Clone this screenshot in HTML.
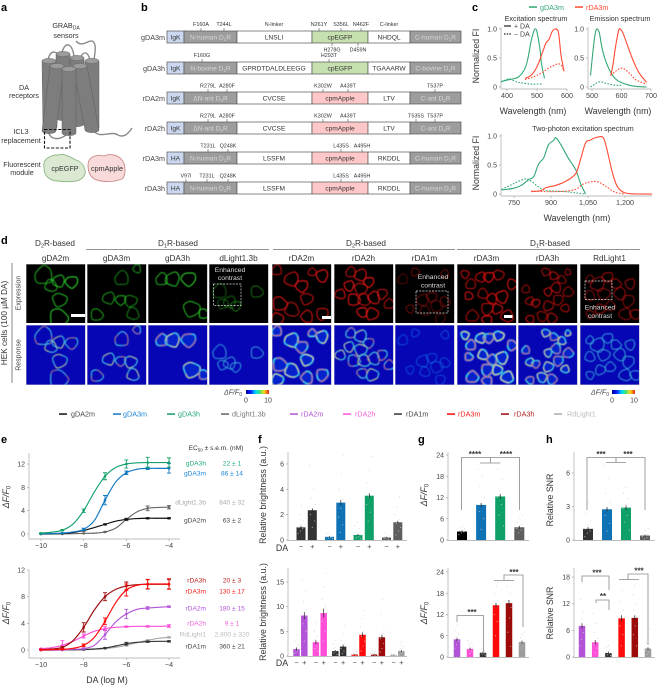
<!DOCTYPE html>
<html lang="en">
<head>
<meta charset="utf-8">
<title>GRAB-DA sensor figure</title>
<style>
html,body{margin:0;padding:0;background:#fff;width:658px;height:685px;overflow:hidden}
svg{display:block}
text{font-family:"Liberation Sans",sans-serif;fill:#333}
.let{font-size:11px;font-weight:700;fill:#000}
.m{font-size:5.4px;text-anchor:middle;fill:#333}
.rn{font-size:7.2px;text-anchor:end;fill:#444}
.w{font-size:6.6px;text-anchor:middle;fill:#d6d6d6}
.k{font-size:6.6px;text-anchor:middle;fill:#333}
.a7{font-size:7.2px;text-anchor:middle;fill:#444}
.t{font-size:7px;fill:#444}
.lab{font-size:8.8px;text-anchor:middle;fill:#333}
.ttl{font-size:7.2px;text-anchor:middle;fill:#333}
.col{font-size:8.2px;text-anchor:middle;fill:#333}
.en{font-size:6.8px;text-anchor:middle;fill:#ddd}
.lg{font-size:7.2px}
.star{font-size:8px;text-anchor:middle;fill:#333;font-weight:700}
.ec{font-size:6.6px}
.br{fill:none;stroke:#888;stroke-width:.8}
.seg{stroke:#555;stroke-width:.7}
.tk{stroke:#333;stroke-width:.5}
</style>
</head>
<body>
<svg id="figure" width="658" height="685" viewBox="0 0 658 685" xmlns="http://www.w3.org/2000/svg">
<defs>
<linearGradient id="jet" x1="0" x2="1" y1="0" y2="0"><stop offset="0" stop-color="#00008a"/><stop offset=".2" stop-color="#0020ff"/><stop offset=".42" stop-color="#00d8ff"/><stop offset=".6" stop-color="#40e070"/><stop offset=".78" stop-color="#f0e020"/><stop offset="1" stop-color="#f02010"/></linearGradient>
<filter id="soft" x="-5%" y="-5%" width="110%" height="110%"><feGaussianBlur stdDeviation=".4"/></filter>
</defs>

<text class="let" x="1" y="11">a</text>
<text class="let" x="141" y="11">b</text>
<text class="let" x="472" y="11">c</text>
<text class="let" x="1" y="244">d</text>
<text class="let" x="1" y="443">e</text>
<text class="let" x="258" y="443">f</text>
<text class="let" x="418" y="443">g</text>
<text class="let" x="546" y="443">h</text>

<!-- Panel a -->
<g id="panel-a">
<text class="ttl" x="66" y="28">GRAB<tspan font-size="5" dy="1.5">DA</tspan></text>
<text class="ttl" x="66" y="38">sensors</text>
<text class="ttl" x="24" y="90">DA</text>
<text class="ttl" x="24" y="98">receptors</text>
<text class="ttl" x="21" y="134">ICL3</text>
<text class="ttl" x="21" y="143">replacement</text>
<text class="ttl" x="22" y="167">Fluorescent</text>
<text class="ttl" x="22" y="175">module</text>
<path d="M76,41 C82,48 88,40 92,41 C97,43 95,52 94,60" fill="none" stroke="#8b8b8b" stroke-width="1.4"/>
<path d="M48,60 C50,50 56,50 60,57 M62,52 C66,40 72,44 74,56 M80,58 C84,50 88,52 90,60" fill="none" stroke="#8b8b8b" stroke-width="1.4"/>
<path d="M93,130 C100,140 110,130 118,135 C124,138 128,134 132,128" fill="none" stroke="#8b8b8b" stroke-width="1.4"/>
<path d="M48,130 C50,142 62,140 68,133" fill="none" stroke="#8b8b8b" stroke-width="1.4"/>
<g id="rods"></g>
<rect x="44.5" y="129.5" width="25.5" height="18.5" fill="none" stroke="#111" stroke-width="1.1" stroke-dasharray="3 1.6"/>
<path d="M44,168 C42,158 52,155 58,155 C64,153 70,157 76,160 C84,162 87,172 84,176 C80,183 66,182 58,181 C50,181 44,176 44,168Z" fill="#dbe9d3" stroke="#8fb884" stroke-width=".9"/>
<text class="ttl" x="65" y="171">cpEGFP</text>
<path d="M88,165 C88,157 96,154 104,156 C110,153 118,155 122,160 C126,165 126,176 122,179 C112,183 98,182 93,178 C89,175 88,170 88,165Z" fill="#f8dada" stroke="#cc8a8a" stroke-width=".9"/>
<text class="ttl" x="107" y="171">cpmApple</text>
</g>

<!-- Panel b -->
<g id="panel-b">
<g>
<text class="rn" x="165" y="40">gDA3m</text>
<rect class="seg" x="167" y="31" width="17" height="12" fill="#cbd7ee"/><rect class="seg" x="184" y="31" width="53" height="12" fill="#9d9d9d"/><rect class="seg" x="237" y="31" width="75" height="12" fill="#fff"/><rect class="seg" x="312" y="31" width="56" height="12" fill="#c6e0b0"/><rect class="seg" x="368" y="31" width="42" height="12" fill="#fff"/><rect class="seg" x="410" y="31" width="51" height="12" fill="#9d9d9d"/>
<text class="k" x="175.500" y="39.500">IgK</text><text class="w" x="210.500" y="39.500">N-human D<tspan font-size="4.5" dy="1.3">1</tspan><tspan dy="-1.3">R</tspan></text><text class="k" x="274" y="39.500">LNSLI</text><text class="k" x="340" y="39.500">cpEGFP</text><text class="k" x="389" y="39.500">NHDQL</text><text class="w" x="435.500" y="39.500">C-human D<tspan font-size="4.5" dy="1.3">1</tspan><tspan dy="-1.3">R</tspan></text>
<text class="m" x="201" y="26">F160A</text><text class="m" x="224" y="26">T244L</text><text class="m" x="274" y="26">N-linker</text><text class="m" x="319" y="26">N261Y</text><text class="m" x="341" y="26">S356L</text><text class="m" x="361" y="26">N462F</text><text class="m" x="389" y="26">C-linker</text>
<path class="tk" d="M201,28V31M224,28V31M319,28V31M341,28V31M361,28V31M332,43V46M358,43V46"/>
<text class="m" x="332" y="51.500">H278G</text><text class="m" x="358" y="51.500">D459N</text>
</g>
<g>
<text class="rn" x="165" y="71">gDA3h</text>
<rect class="seg" x="167" y="62" width="17" height="12" fill="#cbd7ee"/><rect class="seg" x="184" y="62" width="53" height="12" fill="#9d9d9d"/><rect class="seg" x="237" y="62" width="75" height="12" fill="#fff"/><rect class="seg" x="312" y="62" width="56" height="12" fill="#c6e0b0"/><rect class="seg" x="368" y="62" width="42" height="12" fill="#fff"/><rect class="seg" x="410" y="62" width="51" height="12" fill="#9d9d9d"/>
<text class="k" x="175.500" y="70.500">IgK</text><text class="w" x="210.500" y="70.500">N-bovine D<tspan font-size="4.5" dy="1.3">1</tspan><tspan dy="-1.3">R</tspan></text><text class="k" x="274" y="70.500">GPRDTDALDLEEGG</text><text class="k" x="340" y="70.500">cpEGFP</text><text class="k" x="389" y="70.500">TGAAARW</text><text class="w" x="435.500" y="70.500">C-bovine D<tspan font-size="4.5" dy="1.3">1</tspan><tspan dy="-1.3">R</tspan></text>
<text class="m" x="202" y="57">F160G</text><text class="m" x="329" y="57">H293T</text>
<path class="tk" d="M202,59V62M329,59V62"/>
</g>
<g>
<text class="rn" x="165" y="101">rDA2m</text>
<rect class="seg" x="167" y="92" width="17" height="12" fill="#cbd7ee"/><rect class="seg" x="184" y="92" width="53" height="12" fill="#9d9d9d"/><rect class="seg" x="237" y="92" width="75" height="12" fill="#fff"/><rect class="seg" x="312" y="92" width="56" height="12" fill="#ffc8c8"/><rect class="seg" x="368" y="92" width="42" height="12" fill="#fff"/><rect class="seg" x="410" y="92" width="51" height="12" fill="#9d9d9d"/>
<text class="k" x="175.500" y="100.500">IgK</text><text class="w" x="210.500" y="100.500">ΔN-ant D<tspan font-size="4.5" dy="1.3">2</tspan><tspan dy="-1.3">R</tspan></text><text class="k" x="274" y="100.500">CVCSE</text><text class="k" x="340" y="100.500">cpmApple</text><text class="k" x="389" y="100.500">LTV</text><text class="w" x="435.500" y="100.500">C-ant D<tspan font-size="4.5" dy="1.3">2</tspan><tspan dy="-1.3">R</tspan></text>
<text class="m" x="208" y="87.500">R279L</text><text class="m" x="227" y="87.500">A280F</text><text class="m" x="323" y="87.500">K302W</text><text class="m" x="348" y="87.500">A439T</text><text class="m" x="435" y="87.500">T537P</text>
<path class="tk" d="M208,89V92M227,89V92M323,89V92M348,89V92M435,89V92"/>
</g>
<g>
<text class="rn" x="165" y="131">rDA2h</text>
<rect class="seg" x="167" y="122" width="17" height="12" fill="#cbd7ee"/><rect class="seg" x="184" y="122" width="53" height="12" fill="#9d9d9d"/><rect class="seg" x="237" y="122" width="75" height="12" fill="#fff"/><rect class="seg" x="312" y="122" width="56" height="12" fill="#ffc8c8"/><rect class="seg" x="368" y="122" width="42" height="12" fill="#fff"/><rect class="seg" x="410" y="122" width="51" height="12" fill="#9d9d9d"/>
<text class="k" x="175.500" y="130.500">IgK</text><text class="w" x="210.500" y="130.500">ΔN-ant D<tspan font-size="4.5" dy="1.3">2</tspan><tspan dy="-1.3">R</tspan></text><text class="k" x="274" y="130.500">CVCSE</text><text class="k" x="340" y="130.500">cpmApple</text><text class="k" x="389" y="130.500">LTV</text><text class="w" x="435.500" y="130.500">C-ant D<tspan font-size="4.5" dy="1.3">2</tspan><tspan dy="-1.3">R</tspan></text>
<text class="m" x="208" y="117.500">R279L</text><text class="m" x="227" y="117.500">A280F</text><text class="m" x="323" y="117.500">K302W</text><text class="m" x="348" y="117.500">A439T</text><text class="m" x="416" y="117.500">T535S</text><text class="m" x="435" y="117.500">T537P</text>
<path class="tk" d="M208,119V122M227,119V122M323,119V122M348,119V122M416,119V122M435,119V122"/>
</g>
<g>
<text class="rn" x="165" y="161">rDA3m</text>
<rect class="seg" x="167" y="152" width="17" height="12" fill="#cbd7ee"/><rect class="seg" x="184" y="152" width="53" height="12" fill="#9d9d9d"/><rect class="seg" x="237" y="152" width="75" height="12" fill="#fff"/><rect class="seg" x="312" y="152" width="56" height="12" fill="#ffc8c8"/><rect class="seg" x="368" y="152" width="42" height="12" fill="#fff"/><rect class="seg" x="410" y="152" width="51" height="12" fill="#9d9d9d"/>
<text class="k" x="175.500" y="160.500">HA</text><text class="w" x="210.500" y="160.500">N-human D<tspan font-size="4.5" dy="1.3">1</tspan><tspan dy="-1.3">R</tspan></text><text class="k" x="274" y="160.500">LSSFM</text><text class="k" x="340" y="160.500">cpmApple</text><text class="k" x="389" y="160.500">RKDDL</text><text class="w" x="435.500" y="160.500">C-human D<tspan font-size="4.5" dy="1.3">1</tspan><tspan dy="-1.3">R</tspan></text>
<text class="m" x="208" y="147.500">T231L</text><text class="m" x="228" y="147.500">Q248K</text><text class="m" x="341" y="147.500">L435S</text><text class="m" x="362" y="147.500">A495H</text>
<path class="tk" d="M208,149V152M228,149V152M341,149V152M362,149V152"/>
</g>
<g>
<text class="rn" x="165" y="191">rDA3h</text>
<rect class="seg" x="167" y="182" width="17" height="12" fill="#cbd7ee"/><rect class="seg" x="184" y="182" width="53" height="12" fill="#9d9d9d"/><rect class="seg" x="237" y="182" width="75" height="12" fill="#fff"/><rect class="seg" x="312" y="182" width="56" height="12" fill="#ffc8c8"/><rect class="seg" x="368" y="182" width="42" height="12" fill="#fff"/><rect class="seg" x="410" y="182" width="51" height="12" fill="#9d9d9d"/>
<text class="k" x="175.500" y="190.500">HA</text><text class="w" x="210.500" y="190.500">N-human D<tspan font-size="4.5" dy="1.3">1</tspan><tspan dy="-1.3">R</tspan></text><text class="k" x="274" y="190.500">LSSFM</text><text class="k" x="340" y="190.500">cpmApple</text><text class="k" x="389" y="190.500">RKDDL</text><text class="w" x="435.500" y="190.500">C-human D<tspan font-size="4.5" dy="1.3">1</tspan><tspan dy="-1.3">R</tspan></text>
<text class="m" x="186" y="177.500">V97I</text><text class="m" x="207" y="177.500">T231L</text><text class="m" x="228" y="177.500">Q248K</text><text class="m" x="341" y="177.500">L435S</text><text class="m" x="362" y="177.500">A495H</text>
<path class="tk" d="M186,179V182M207,179V182M228,179V182M341,179V182M362,179V182"/>
</g>
</g>

<!-- Panel c -->
<g id="panel-c">
<rect x="529" y="6.300" width="8" height="1.500" fill="#33a875"/>
<text class="lg" x="540" y="10" style="fill:#33a875">gDA3m</text>
<rect x="575" y="6.300" width="8" height="1.500" fill="#ff4a33"/>
<text class="lg" x="586" y="10" style="fill:#ff4a33">rDA3m</text>
<text class="ttl" x="536" y="21">Excitation spectrum</text>
<text class="ttl" x="620" y="21">Emission spectrum</text>
<text class="ttl" x="583" y="131">Two-photon excitation spectrum</text>
<line x1="504" x2="511" y1="26" y2="26" stroke="#222" stroke-width="1.2"/>
<text class="t" x="514" y="28.500">+ DA</text>
<line x1="504" x2="511" y1="34" y2="34" stroke="#222" stroke-width="1.2" stroke-dasharray="1.5 1.2"/>
<text class="t" x="514" y="36.500">− DA</text>
<text class="lab" transform="translate(479,56) rotate(-90)">Normalized FI</text>
<text class="lab" transform="translate(479,163) rotate(-90)">Normalized FI</text>
<text class="lab" x="533" y="114">Wavelength (nm)</text>
<text class="lab" x="618" y="114">Wavelength (nm)</text>
<text class="lab" x="577" y="221">Wavelength (nm)</text>
<g id="c-charts"></g>
</g>

<!-- Panel d -->
<g id="panel-d">
<text class="col" x="55" y="246">D<tspan font-size="5.5" dy="1.5">2</tspan><tspan dy="-1.5">R-based</tspan></text>
<text class="col" x="178" y="246">D<tspan font-size="5.5" dy="1.5">1</tspan><tspan dy="-1.5">R-based</tspan></text>
<text class="col" x="366" y="246">D<tspan font-size="5.5" dy="1.5">2</tspan><tspan dy="-1.5">R-based</tspan></text>
<text class="col" x="550" y="246">D<tspan font-size="5.5" dy="1.5">1</tspan><tspan dy="-1.5">R-based</tspan></text>
<path d="M86,249.300H269M273,249.300H455M457,249.300H640" stroke="#555" stroke-width=".7"/>
<line x1="12" x2="12" y1="263" y2="383" stroke="#555" stroke-width=".7"/>
<text class="col" transform="translate(7,323) rotate(-90)">HEK cells (100 µM DA)</text>
<text class="t" text-anchor="middle" transform="translate(20.500,293) rotate(-90)">Expression</text>
<text class="t" text-anchor="middle" transform="translate(20.500,355) rotate(-90)">Response</text>
<g id="micro"></g>
<g>
<rect x="71" y="314" width="14" height="3" fill="#fff"/>
<rect x="322" y="316" width="9" height="3" fill="#fff"/>
<rect x="504" y="315" width="8.500" height="3" fill="#fff"/>
<rect x="213.500" y="284" width="27.500" height="21.500" fill="none" stroke="#ddd" stroke-width=".7" stroke-dasharray="2 1.2"/>
<text class="en" x="230" y="272">Enhanced</text><text class="en" x="230" y="280">contrast</text>
<rect x="416" y="291" width="32" height="22" fill="none" stroke="#ddd" stroke-width=".7" stroke-dasharray="2 1.2"/>
<text class="en" x="433" y="279">Enhanced</text><text class="en" x="433" y="287.500">contrast</text>
<rect x="585" y="281" width="27" height="18.500" fill="none" stroke="#ddd" stroke-width=".7" stroke-dasharray="2 1.2"/>
<text class="en" x="600" y="309.500">Enhanced</text><text class="en" x="600" y="318">contrast</text>
</g>
<g>
<text class="t" x="242" y="394.500" text-anchor="end" font-style="italic">ΔF/F<tspan font-size="5" dy="1.3" font-style="normal">0</tspan></text>
<rect x="246" y="390" width="23" height="4" fill="url(#jet)"/>
<text class="t" x="246" y="402.500" text-anchor="middle">0</text><text class="t" x="268" y="402.500" text-anchor="middle">10</text>
<text class="t" x="609" y="394.500" text-anchor="end" font-style="italic">ΔF/F<tspan font-size="5" dy="1.3" font-style="normal">0</tspan></text>
<rect x="612" y="390" width="23" height="4" fill="url(#jet)"/>
<text class="t" x="612" y="402.500" text-anchor="middle">0</text><text class="t" x="634" y="402.500" text-anchor="middle">10</text>
</g>
<g id="legend-row">
<rect x="59" y="413.300" width="8" height="1.500" fill="#111"/><text class="lg" x="71" y="416.500" style="fill:#444">gDA2m</text>
<rect x="113" y="413.300" width="8" height="1.500" fill="#0f76c8"/><text class="lg" x="123" y="416.500" style="fill:#1c86d8">gDA3m</text>
<rect x="167" y="413.300" width="8" height="1.500" fill="#12a06b"/><text class="lg" x="178" y="416.500" style="fill:#22a878">gDA3h</text>
<rect x="221" y="413.300" width="8" height="1.500" fill="#666"/><text class="lg" x="232" y="416.500" style="fill:#777">dLight1.3b</text>
<rect x="290" y="413.300" width="8" height="1.500" fill="#b354d8"/><text class="lg" x="301" y="416.500" style="fill:#b354d8">rDA2m</text>
<rect x="343" y="413.300" width="8" height="1.500" fill="#ff4fd8"/><text class="lg" x="355" y="416.500" style="fill:#f060d8">rDA2h</text>
<rect x="394" y="413.300" width="8" height="1.500" fill="#333"/><text class="lg" x="406" y="416.500" style="fill:#444">rDA1m</text>
<rect x="447" y="413.300" width="8" height="1.500" fill="#ff0a0a"/><text class="lg" x="458" y="416.500" style="fill:#f02020">rDA3m</text>
<rect x="501" y="413.300" width="8" height="1.500" fill="#a00a0a"/><text class="lg" x="514" y="416.500" style="fill:#b02020">rDA3h</text>
<rect x="554" y="413.300" width="8" height="1.500" fill="#aaa"/><text class="lg" x="567" y="416.500" style="fill:#bbb">RdLight1</text>
</g>
</g>

<!-- Panel e -->
<g id="panel-e">
<text class="ec" x="216" y="450" text-anchor="middle">EC<tspan font-size="4.5" dy="1.3">50</tspan><tspan dy="-1.3"> ± s.e.m. (nM)</tspan></text>
<g id="e-table"></g>
<text class="lab" font-style="italic" transform="translate(9,497) rotate(-90)">ΔF/F<tspan font-size="6" dy="1.5" font-style="normal">0</tspan></text>
<text class="lab" font-style="italic" transform="translate(9,613) rotate(-90)">ΔF/F<tspan font-size="6" dy="1.5" font-style="normal">0</tspan></text>
<text class="lab" x="107" y="683">DA (log M)</text>
<g id="e-charts"></g>
</g>

<!-- Panels f g h -->
<g id="bars"></g>
<text class="lab" transform="translate(266,495) rotate(-90)">Relative brightness (a.u.)</text>
<text class="lab" transform="translate(266,612) rotate(-90)">Relative brightness (a.u.)</text>
<text class="lab" x="282" y="551">DA</text>
<text class="lab" x="282" y="666">DA</text>
<text class="lab" font-style="italic" transform="translate(427,495) rotate(-90)">ΔF/F<tspan font-size="6" dy="1.5" font-style="normal">0</tspan></text>
<text class="lab" font-style="italic" transform="translate(427,613) rotate(-90)">ΔF/F<tspan font-size="6" dy="1.5" font-style="normal">0</tspan></text>
<text class="lab" transform="translate(553,500) rotate(-90)">Relative SNR</text>
<text class="lab" transform="translate(553,613) rotate(-90)">Relative SNR</text>
<g>
<path class="br" d="M461.500,510V457.500H519.500V510M490.500,457.500V463M480,463H500"/>
<text class="star" x="475" y="457">****</text><text class="star" x="506" y="457">****</text>
<path class="br" d="M587,510V457.500H645V510M616,457.500V462.500M606,462.500H626"/>
<text class="star" x="601" y="457">***</text><text class="star" x="628" y="457">***</text>
<path class="br" d="M457,622V615.500H483.500V652"/>
<text class="star" x="472" y="615">***</text>
<path class="br" d="M494,580.500H514M504,580.500V575H523V627"/>
<text class="star" x="514" y="575">***</text>
<path class="br" d="M582,582V576H609V590"/>
<text class="star" x="597" y="575.500">***</text>
<path class="br" d="M596,603V600H609V610"/>
<text class="star" x="603" y="599">**</text>
<path class="br" d="M619,579.500H639M628,579.500V574H648V645"/>
<text class="star" x="639" y="573.500">***</text>
</g>
</svg>

<script>
// ---- Panel c data ----
const excGreenPlusWl=[380,400,420,440,460,470,480,490,495,500,510,515,525];
const excGreenPlus=[.09,.12,.14,.18,.32,.5,.78,.97,1,.95,.65,.4,.15];
const excGreenMinusWl=[380,400,410,430,450,480,500,520];
const excGreenMinus=[.09,.13,.14,.09,.07,.05,.05,.05];
const excRedPlusWl=[460,480,500,520,530,540,550,560,570,575,580,590];
const excRedPlus=[.15,.2,.35,.62,.76,.82,.95,1,.97,.8,.55,.27];
const excRedMinusWl=[460,480,500,520,540,560,570,580,590];
const excRedMinus=[.13,.16,.2,.26,.33,.38,.4,.38,.28];
const emGreenPlusWl=[495,505,512,518,525,535,550,570,590,620,650,685];
const emGreenPlus=[.2,.7,.95,1,.93,.65,.4,.2,.1,.04,.01,0];
const emGreenMinusWl=[495,510,525,550,580,600];
const emGreenMinus=[0,.05,.09,.06,.03,.03];
const emRedPlusWl=[563,570,580,590,595,605,620,640,660,685];
const emRedPlus=[.2,.35,.7,.97,1,.93,.72,.45,.24,.08];
const emRedMinusWl=[563,580,595,610,630,650,685];
const emRedMinus=[.2,.27,.32,.31,.22,.12,.05];
const tpGreenPlusWl=[700,750,780,810,830,850,870,890,910,920,940,970,1000,1020,1040];
const tpGreenPlus=[.07,.1,.15,.25,.3,.52,.62,.85,.92,.97,.85,.62,.42,.18,0];
const tpGreenMinusWl=[700,750,780,800,820,850,880,920,960,1000,1040];
const tpGreenMinus=[.08,.18,.24,.26,.22,.12,.06,.05,.04,.02,0];
const tpRedPlusWl=[820,860,880,920,960,1000,1020,1040,1060,1080,1110,1125,1150,1170,1200,1250,1310];
const tpRedPlus=[.04,.06,.11,.15,.22,.35,.6,.88,.93,.97,.98,.8,.35,.12,.02,0,0];
const tpRedMinusWl=[820,900,960,1000,1030,1060,1090,1120,1160,1200];
const tpRedMinus=[.05,.04,.05,.08,.17,.21,.21,.14,.03,0];
const excXTicks=[400,500,600];
const emXTicks=[500,600,700];
const tpXTicks=[750,900,1050,1200];
const tpXTickLabels=['750','900','1,050','1,200'];
const spectraYTicks=[0,0.5,1];
const spectraYLabels=['0','0.5','1.0'];

// ---- Panel e data ----
const logDose=[-10,-9.5,-9,-8.5,-8,-7.5,-7,-6.5,-6,-5.5,-5,-4.5,-4];
const gDA3hCurve=[.15,.3,.65,1.7,4,7.2,9.9,11.4,12,12.2,12.25,12.25,12.25];
const gDA3mCurve=[.05,.08,.15,.35,.8,2.3,5.8,8.9,10.5,11.1,11.25,11.25,11.25];
const dLightCurve=[0,0,.02,.05,.1,.15,.35,1,2.5,3.8,4.4,4.55,4.6];
const gDA2mCurve=[.02,.05,.1,.25,.6,1.1,1.65,2.2,2.5,2.65,2.7,2.7,2.7];
const rDA3hCurve=[.05,.15,.4,1.4,3.4,6,8,9.1,9.6,9.8,9.85,9.85,9.85];
const rDA3mCurve=[.02,.05,.1,.25,.7,1.9,4.3,7.1,9,9.7,9.9,9.9,9.9];
const rDA2mCurve=[0,0,.02,.1,.2,.7,2.3,4.2,5.4,6.1,6.3,6.4,6.5];
const rDA2hCurve=[.2,.35,.7,1.3,2.1,2.8,3.2,3.4,3.5,3.55,3.55,3.55,3.6];
const rdLightCurve=[0,0,0,.02,.05,.1,.2,.4,.7,1.1,1.45,1.75,1.9];
const rDA1mCurve=[0,0,.02,.03,.07,.15,.3,.6,.95,1.15,1.25,1.3,1.3];
const gDA3hErr=[.05,.1,.3,.6,.7,.9,.8];
const gDA3mErr=[.05,.05,.2,.8,.3,.2,.8];
const dLightErr=[.02,.02,.03,.05,.2,.4,.3];
const gDA2mErr=[.02,.02,.1,.1,.1,.1,.1];
const rDA3hErr=[.05,.1,.7,.6,.6,.7,.7];
const rDA3mErr=[.02,.05,.2,.5,.9,.7,.8];
const rDA2mErr=[.02,.02,.1,.7,.7,.2,.1];
const rDA2hErr=[.05,.7,.3,.3,.1,.1,.2];
const rdLightErr=[.01,.01,.02,.03,.1,.1,.1];
const rDA1mErr=[.01,.01,.03,.05,.2,.1,.1];
const eXTicks=[-10,-8,-6,-4];
const eXTickLabels=['−10','−8','−6','−4'];
const eYTicksUpper=[0,4,8,12];
const eYTicksLower=[0,4,8,12];
const ecNamesUpper=['gDA3h','gDA3m','dLight1.3b','gDA2m'];
const ecValuesUpper=['22 ± 1','86 ± 14','840 ± 32','63 ± 2'];
const ecNamesLower=['rDA3h','rDA3m','rDA2m','rDA2h','RdLight1','rDA1m'];
const ecValuesLower=['20 ± 3','130 ± 17','180 ± 15','9 ± 1','2,800 ± 320','360 ± 21'];

// ---- Panels f, g, h data ----
const fUpperValues=[1,2.35,.25,2.95,.4,3.5,.2,1.4];
const fUpperErrs=[.12,.15,.05,.2,.08,.2,.05,.12];
const fUpperDots=[[.5,.7,.9,1,1.2,1.5,2,2.7],[1,1.5,2,2.4,2.8,3.3,4,5.9],[.1,.15,.2,.25,.3,.4,.5,.6],[.6,1.2,1.8,2.5,3.2,4,5.2,6.7],[.1,.2,.3,.4,.6,.9,1.1,1.4],[1.5,2.2,2.8,3.4,3.9,4.5,5.5,6.6],[.05,.1,.15,.2,.25,.3,.4,.55],[.4,.7,1,1.3,1.6,2,2.6,3.4]];
const fLowerValues=[1.4,8.2,2.8,8.7,1,1.9,.3,4.3,.3,3.8,.2,1];
const fLowerErrs=[.3,.7,.4,.9,.2,.4,.1,.5,.1,.5,.05,.2];
const fLowerDots=[[.5,.8,1.2,1.5,1.8,2.2,3,4.3],[3,5,6.5,8,9.5,11,13,15.4],[1,1.5,2,2.8,3.3,4,5,6.5],[3,5,7,8.5,10,11.5,14,16.8],[.3,.6,.9,1.2,1.6,2,2.5,3.2],[.5,1,1.5,2,2.5,3.2,4.5,6.2],[.1,.2,.3,.4,.5,.7,.9,1.2],[1,2,3,4,5,6,7.5,9.2],[.1,.2,.3,.4,.5,.6,.8,1.1],[.8,1.5,2.5,3.5,4.5,6,8.5,11.5],[.05,.1,.15,.2,.25,.3,.4,.5],[.3,.6,.9,1.2,1.5,1.9,2.3,2.9]];
const gUpperValues=[2.4,9.9,12.3,3.6];
const gUpperErrs=[.3,.6,.7,.4];
const gUpperDots=[[1.5,2,2.3,2.6,2.9,3.2,3.6,3.9],[3,6,8,10,12,15,18,20],[4,7,10,12,14,17,20,22],[2,2.8,3.3,3.8,4.4,5,6,7]];
const gLowerValues=[5,2.3,1.2,14.6,15.2,4.2];
const gLowerErrs=[.4,.3,.3,.7,.9,.4];
const gLowerDots=[[2.5,3.5,4.5,5,5.6,6.4,7.5,9],[1,1.6,2.1,2.5,3,3.5,4,4.6],[.5,.8,1.1,1.3,1.5,1.9,2.2,2.5],[6,10,12,14,16,18,20,21],[3,7,11,14,16,18,20,22],[2.5,3,3.6,4.2,4.8,5.5,6.3,7]];
const hUpperValues=[1,2.75,2.9,.4];
const hUpperErrs=[.15,.2,.2,.08];
const hUpperDots=[[.3,.6,.8,1,1.3,1.7,2.4,3.4],[.8,1.5,2.2,2.8,3.4,4.2,5.5,6.8],[.9,1.6,2.2,2.8,3.2,3.7,4.2,4.7],[.1,.2,.3,.4,.5,.6,.8,1]];
const hLowerValues=[7,3.3,.9,8.7,8.8,1.9];
const hLowerErrs=[.6,.5,.3,.7,.6,.3];
const hLowerDots=[[2.5,4,5.5,7,8.5,10,13,16.5],[1,2,2.8,3.5,4.2,5.5,7.5,9.8],[.3,.5,.8,1,1.3,1.6,2.1,2.6],[2.5,5,7,9,10.5,12.5,15,17.5],[2.5,5,7,9,10.5,12,14,16],[.6,1,1.5,2,2.5,3.2,4.5,6.3]];
const fUpperYTicks=[0,2,4,6];
const fLowerYTicks=[0,5,10,15];
const gYTicks=[0,6,12,18,24];
const hUpperYTicks=[0,3,6];
const hLowerYTicks=[0,6,12,18];
const daSigns=['−','+'];
const cBlue='#0f72b4',cGreen='#0fa068',cGrey='#5e5e5e',cPurple='#b354d8',cPink='#ff4fd8',cCoal='#333333',cRed='#ff0a0a',cMaroon='#9c0a0a',cSilver='#9c9c9c';

// ---- Panel d micrograph content ----
const micrographNames=['gDA2m','gDA3m','gDA3h','dLight1.3b','rDA2m','rDA2h','rDA1m','rDA3m','rDA3h','RdLight1'];
const cellsByPanel=[
 [[18,11,9],[33,17,6],[46,18,6],[34,36,7],[33,54,9],[25,22,6]],
 [[35,14,7],[22,34,6],[34,36,5],[44,37,6],[10,51,6],[46,50,6],[50,5,4]],
 [[14,15,6],[25,15,7],[41,15,7],[44,45,8],[56,50,5]],
 [[11,27,7],[21,38,6],[27,42,5],[14,40,5],[48,28,6]],
 [[5,6,5],[20,15,7],[30,22,6],[35,35,6],[8,40,7],[20,46,7],[35,53,6],[50,12,6],[50,50,6],[5,55,6],[40,8,4]],
 [[17,8,5],[27,11,6],[35,18,5],[27,25,6],[20,36,6],[30,36,6],[40,34,6],[15,22,5],[48,30,5],[38,50,6],[55,40,5],[6,30,5],[28,48,5]],
 [[8,15,5],[28,36,6],[37,33,5],[42,42,6],[50,38,5],[30,47,5],[50,10,4],[15,45,4],[45,55,5],[20,8,4]],
 [[14,20,5],[24,13,5],[32,13,5],[42,11,5],[12,32,4],[26,30,5],[35,35,5],[45,33,6],[30,45,6],[40,45,5],[15,52,6],[50,52,6],[30,56,5],[8,10,4],[55,20,5]],
 [[8,25,4],[12,37,4],[18,39,4],[28,8,4],[36,12,4],[44,16,4],[38,24,5],[30,28,4],[40,36,5],[30,42,5],[50,28,5],[47,44,4],[12,55,4],[24,52,5],[34,54,5],[50,8,3]],
 [[10,15,4],[18,20,7],[28,13,5],[24,30,6],[36,20,5],[10,32,5],[40,30,6],[50,20,5],[48,37,6],[20,45,5],[30,42,5],[45,50,6],[55,50,5],[10,50,4]]
];
const panelLefts=[26,87,148,209,272,334,395,457,518,580];
const exprColors=['#30e030','#28cc28','#30e030','#26a026','#ff1a1a','#ff1a1a','#c01414','#f81414','#e01414','#d01414'];
const exprOpacity=[1,.85,1,.7,1,1,.6,1,.95,.8];
const respLevel=[.5,.55,.8,.3,.95,.6,.15,1,.75,.3];

const NS='http://www.w3.org/2000/svg';
function svgEl(tag,attrs,parent){
  const el=document.createElementNS(NS,tag);
  for(const k in attrs)el.setAttribute(k,attrs[k]);
  parent.appendChild(el);
  return el;
}
function scale(d0,d1,r0,r1){return v=>r0+(v-d0)/(d1-d0)*(r1-r0);}
function smoothPath(pts){
  let d='M'+pts[0][0].toFixed(2)+','+pts[0][1].toFixed(2);
  for(let i=0;i<pts.length-1;i++){
    const p0=pts[Math.max(i-1,0)],p1=pts[i],p2=pts[i+1],p3=pts[Math.min(i+2,pts.length-1)];
    const c1=[p1[0]+(p2[0]-p0[0])/6,p1[1]+(p2[1]-p0[1])/6];
    const c2=[p2[0]-(p3[0]-p1[0])/6,p2[1]-(p3[1]-p1[1])/6];
    d+='C'+c1[0].toFixed(2)+','+c1[1].toFixed(2)+' '+c2[0].toFixed(2)+','+c2[1].toFixed(2)+' '+p2[0].toFixed(2)+','+p2[1].toFixed(2);
  }
  return d;
}
function blobPath(c,ci){
  const pts=[];
  for(let k=0;k<=8;k++){
    const idx=k%8;
    const a=idx/8*Math.PI*2+ci*.4;
    const rr=c[2]*(1+(((idx*3+ci*5)%5)-2)*.07);
    pts.push([c[0]+Math.cos(a)*rr,c[1]+Math.sin(a)*rr]);
  }
  return smoothPath(pts)+'Z';
}
function drawAxes(parent,prefix,o){
  const axis=svgEl('path',{d:'M'+o.left+','+o.top+'V'+o.base+'H'+o.right,fill:'none',stroke:'#bdbdbd','stroke-width':.9},parent);
  
  
  o.yTicks.forEach((t,i)=>{
    const tk=svgEl('line',{x1:o.left-2,x2:o.left,y1:o.y(t),y2:o.y(t),stroke:'#999','stroke-width':.6},parent);
    
    
    const lb=svgEl('text',{x:o.left-4,y:o.y(t)+2.5,'text-anchor':'end','class':'t'},parent);
    
    
    lb.textContent=o.yLabels?o.yLabels[i]:String(t);
  });
  (o.xTicks||[]).forEach((t,i)=>{
    const tk=svgEl('line',{x1:o.x(t),x2:o.x(t),y1:o.base,y2:o.base+2,stroke:'#999','stroke-width':.6},parent);
    
    
    const lb=svgEl('text',{x:o.x(t),y:o.base+9,'class':'a7'},parent);
    
    
    lb.textContent=o.xLabels?o.xLabels[i]:String(t);
  });
}
function drawSpectrum(parent,name,xs,ys,x,y,color,dashed){
  const pts=xs.map((w,i)=>[x(w),y(ys[i])]);
  const line=svgEl('path',{d:smoothPath(pts),fill:'none',stroke:color,'stroke-width':1.1},parent);
  if(dashed)line.setAttribute('stroke-dasharray','1.6 1.5');
  
  
}

// rods (panel a)
(function(){
  const g=document.getElementById('rods');
  const rods=[[63,54,63,118],[77,58,77,124],[49,61,50,127],[92,61,92,128],[57,66,49,131],[80,66,92,130],[69,69,69,133]];
  rods.forEach(r=>{
    const w=7;
    const body=svgEl('path',{d:'M'+(r[0]-w)+','+r[1]+' L'+(r[2]-w)+','+r[3]+' A'+w+',2.6 0 0 0 '+(r[2]+w)+','+r[3]+' L'+(r[0]+w)+','+r[1]+'Z',fill:'#7d7d7d',stroke:'#5f5f5f','stroke-width':.5},g);
    
    
    const cap=svgEl('ellipse',{cx:r[0],cy:r[1],rx:w,ry:2.6,fill:'#9b9b9b',stroke:'#666','stroke-width':.5},g);
    
    
  });
})();

// panel c
(function(){
  const g=document.getElementById('c-charts');
  const green='#33a875',red='#ff4a33';
  const yA=scale(0,1,87,29);
  const xE=scale(400,600,507,567);
  drawAxes(g,'excitation',{left:501,right:567,top:27,base:89,y:yA,x:xE,yTicks:spectraYTicks,yLabels:spectraYLabels,xTicks:excXTicks});
  drawSpectrum(g,'excitation-gda3m-plus-da',excGreenPlusWl,excGreenPlus,xE,yA,green,false);
  drawSpectrum(g,'excitation-gda3m-minus-da',excGreenMinusWl,excGreenMinus,xE,yA,green,true);
  drawSpectrum(g,'excitation-rda3m-plus-da',excRedPlusWl,excRedPlus,xE,yA,red,false);
  drawSpectrum(g,'excitation-rda3m-minus-da',excRedMinusWl,excRedMinus,xE,yA,red,true);
  const xM=scale(500,700,592,651);
  drawAxes(g,'emission',{left:588,right:651,top:27,base:89,y:yA,x:xM,yTicks:spectraYTicks,yLabels:spectraYLabels,xTicks:emXTicks});
  drawSpectrum(g,'emission-gda3m-plus-da',emGreenPlusWl,emGreenPlus,xM,yA,green,false);
  drawSpectrum(g,'emission-gda3m-minus-da',emGreenMinusWl,emGreenMinus,xM,yA,green,true);
  drawSpectrum(g,'emission-rda3m-plus-da',emRedPlusWl,emRedPlus,xM,yA,red,false);
  drawSpectrum(g,'emission-rda3m-minus-da',emRedMinusWl,emRedMinus,xM,yA,red,true);
  const yT=scale(0,1,194,136);
  const xT=scale(750,1200,514,625);
  drawAxes(g,'two-photon',{left:501,right:652,top:134,base:196,y:yT,x:xT,yTicks:spectraYTicks,yLabels:spectraYLabels,xTicks:tpXTicks,xLabels:tpXTickLabels});
  drawSpectrum(g,'two-photon-gda3m-plus-da',tpGreenPlusWl,tpGreenPlus,xT,yT,green,false);
  drawSpectrum(g,'two-photon-gda3m-minus-da',tpGreenMinusWl,tpGreenMinus,xT,yT,green,true);
  drawSpectrum(g,'two-photon-rda3m-plus-da',tpRedPlusWl,tpRedPlus,xT,yT,red,false);
  drawSpectrum(g,'two-photon-rda3m-minus-da',tpRedMinusWl,tpRedMinus,xT,yT,red,true);
})();

// panel d
(function(){
  const g=document.getElementById('micro');
  micrographNames.forEach((name,p)=>{
    const left=panelLefts[p];
    const title=svgEl('text',{x:left+29.5,y:261,'class':'col'},g);
    
    
    title.textContent=name;
    const cells=cellsByPanel[p];
    [['expression',264],['response',325]].forEach(row=>{
      const box=svgEl('svg',{x:left,y:row[1],width:59.5,height:row[0]==='expression'?59:60,viewBox:'0 0 59.5 '+(row[0]==='expression'?59:60)},g);
      
      
      const bg=svgEl('rect',{x:0,y:0,width:60,height:60,fill:row[0]==='expression'?'#000':'#0606b4'},box);
      
      
      const layer=svgEl('g',{filter:'url(#soft)'},box);
      
      
      const lvl=respLevel[p];
      cells.forEach((c,ci)=>{
        const d=blobPath(c,ci);
        if(row[0]==='expression'){
          const e=svgEl('path',{d:d,fill:'none',stroke:exprColors[p],'stroke-width':1.05,opacity:exprOpacity[p]*(.75+.25*((ci*7%5)/4))},layer);
          
          
        }else{
          if(lvl>.7){
            const f=svgEl('path',{d:d,fill:'#0a60ff',opacity:.3},layer);
            
            
          }
          const a=svgEl('path',{d:d,fill:'none',stroke:'#1898ff','stroke-width':.6+lvl*1.4,opacity:.5+lvl*.5},layer);
          
          
          if(lvl>.25){
            const b=svgEl('path',{d:d,fill:'none',stroke:'#60e8c0','stroke-width':.25+lvl*.6},layer);
            
            
          }
          if(lvl>.45){
            const h=svgEl('path',{d:d,fill:'none',stroke:ci%2?'#ffd820':'#f03010','stroke-width':.3+lvl*.45,'stroke-dasharray':(3+lvl*10)+' '+(16-lvl*10)},layer);
            
            
          }
        }
      });
      const frame=svgEl('rect',{x:0,y:0,width:59.5,height:60,fill:'none',stroke:'#cfcfcf','stroke-width':.8},box);
      
      
    });
  });
})();

// panel e
(function(){
  const g=document.getElementById('e-charts');
  const x=scale(-10,-4,41,169);
  const yU=scale(0,12,534,464);
  const yL=scale(0,12,650,570);
  drawAxes(g,'upper-dose',{left:29,right:180,top:453,base:539,y:yU,x:x,yTicks:eYTicksUpper,xTicks:eXTicks,xLabels:eXTickLabels});
  drawAxes(g,'lower-dose',{left:29,right:180,top:570,base:658,y:yL,x:x,yTicks:eYTicksLower,xTicks:eXTicks,xLabels:eXTickLabels});
  function curve(name,vals,errs,color,y){
    const path=svgEl('path',{d:smoothPath(logDose.map((d,i)=>[x(d),y(vals[i])])),fill:'none',stroke:color,'stroke-width':1.15},g);
    
    
    errs.forEach((e,i)=>{
      const dose=logDose[i*2],v=vals[i*2];
      const px=x(dose),py=y(v),t=y(v+e),b=y(v-e);
      const bar=svgEl('path',{d:'M'+px+','+t+'V'+b+'M'+(px-2)+','+t+'H'+(px+2)+'M'+(px-2)+','+b+'H'+(px+2),stroke:color,'stroke-width':.9,fill:'none'},g);
      
      
      const pt=svgEl('circle',{cx:px,cy:py,r:1.3,fill:color},g);
      
      
    });
  }
  curve('dlight',dLightCurve,dLightErr,'#666',yU);
  curve('gda2m',gDA2mCurve,gDA2mErr,'#111',yU);
  curve('gda3m',gDA3mCurve,gDA3mErr,'#0f76c0',yU);
  curve('gda3h',gDA3hCurve,gDA3hErr,'#12a06b',yU);
  curve('rdlight1',rdLightCurve,rdLightErr,'#aaa',yL);
  curve('rda1m',rDA1mCurve,rDA1mErr,'#333',yL);
  curve('rda2m',rDA2mCurve,rDA2mErr,'#b354d8',yL);
  curve('rda2h',rDA2hCurve,rDA2hErr,'#ff4fd8',yL);
  curve('rda3h',rDA3hCurve,rDA3hErr,'#9c0a0a',yL);
  curve('rda3m',rDA3mCurve,rDA3mErr,'#ff0a0a',yL);
  const t=document.getElementById('e-table');
  const colorsU=['#22a878','#1c86d8','#aaa','#444'];
  const rowYU=[463,473,502,520];
  ecNamesUpper.forEach((n,i)=>{
    const a=svgEl('text',{x:206,y:rowYU[i]+2.5,'text-anchor':'end','class':'ec',style:'fill:'+colorsU[i]},t);
    
    
    a.textContent=n;
    const b=svgEl('text',{x:232,y:rowYU[i]+2.5,'text-anchor':'middle','class':'ec',style:'fill:'+colorsU[i]},t);
    
    
    b.textContent=ecValuesUpper[i];
  });
  const colorsL=['#b02020','#f02020','#b354d8','#f060d8','#bbb','#444'];
  const rowYL=[580,591,608,623,634,646];
  ecNamesLower.forEach((n,i)=>{
    const a=svgEl('text',{x:206,y:rowYL[i]+2.5,'text-anchor':'end','class':'ec',style:'fill:'+colorsL[i]},t);
    
    
    a.textContent=n;
    const b=svgEl('text',{x:232,y:rowYL[i]+2.5,'text-anchor':'middle','class':'ec',style:'fill:'+colorsL[i]},t);
    
    
    b.textContent=ecValuesLower[i];
  });
})();

// panels f g h
(function(){
  const g=document.getElementById('bars');
  function chart(name,o){
    drawAxes(g,name,{left:o.left,right:o.right,top:o.top,base:o.base,y:o.y,yTicks:o.ticks});
    o.values.forEach((v,i)=>{
      const cx=o.xAt(i);
      const bar=svgEl('rect',{x:cx-o.w/2,y:o.y(v),width:o.w,height:o.y(0)-o.y(v),fill:o.colors[i]},g);
      
      
      o.dots[i].forEach((d,j)=>{
        const off=((j*37+i*5)%11-5)/5*o.w*.32;
        const dot=svgEl('circle',{cx:cx+off,cy:o.y(d),r:.55,fill:'#d0d0d0',opacity:.9},g);
        
        
      });
      const e=o.errs[i];
      const err=svgEl('line',{x1:cx,x2:cx,y1:o.y(v+e),y2:o.y(v-e),stroke:'#222','stroke-width':.7},g);
      
      
      if(o.signs){
        const s=svgEl('text',{x:cx,y:o.base+8.5,'class':'a7'},g);
        
        
        s.textContent=daSigns[i%2];
      }
    });
  }
  chart('f-upper',{left:288,right:407,top:452,base:540.5,y:scale(0,6,540,464),ticks:fUpperYTicks,values:fUpperValues,errs:fUpperErrs,dots:fUpperDots,w:9,signs:true,
    xAt:i=>301+Math.floor(i/2)*28.5+(i%2)*11.3,colors:[cCoal,cCoal,cBlue,cBlue,cGreen,cGreen,cGrey,cGrey]});
  chart('f-lower',{left:288,right:407,top:568,base:656.5,y:scale(0,15,656,582),ticks:fLowerYTicks,values:fLowerValues,errs:fLowerErrs,dots:fLowerDots,w:6.5,signs:true,
    xAt:i=>296.5+Math.floor(i/2)*19.4+(i%2)*7.8,colors:[cPurple,cPurple,cPink,cPink,cCoal,cCoal,cRed,cRed,cMaroon,cMaroon,cSilver,cSilver]});
  chart('g-upper',{left:448,right:529,top:452,base:540.5,y:scale(0,24,540,455),ticks:gYTicks,values:gUpperValues,errs:gUpperErrs,dots:gUpperDots,w:10,
    xAt:i=>462+i*19.1,colors:['#000',cBlue,cGreen,cGrey]});
  chart('g-lower',{left:448,right:529,top:568,base:657.5,y:scale(0,24,657,572),ticks:gYTicks,values:gLowerValues,errs:gLowerErrs,dots:gLowerDots,w:6.5,
    xAt:i=>457+i*13,colors:[cPurple,cPink,cCoal,cRed,cMaroon,cSilver]});
  chart('h-upper',{left:574,right:655,top:452,base:540.5,y:scale(0,6,540,473),ticks:hUpperYTicks,values:hUpperValues,errs:hUpperErrs,dots:hUpperDots,w:10,
    xAt:i=>588+i*19,colors:[cCoal,cBlue,cGreen,cGrey]});
  chart('h-lower',{left:574,right:655,top:568,base:657.5,y:scale(0,18,657,577),ticks:hLowerYTicks,values:hLowerValues,errs:hLowerErrs,dots:hLowerDots,w:6.5,
    xAt:i=>582+i*13.2,colors:[cPurple,cPink,cCoal,cRed,cMaroon,cSilver]});
})();
</script>
</body>
</html>
